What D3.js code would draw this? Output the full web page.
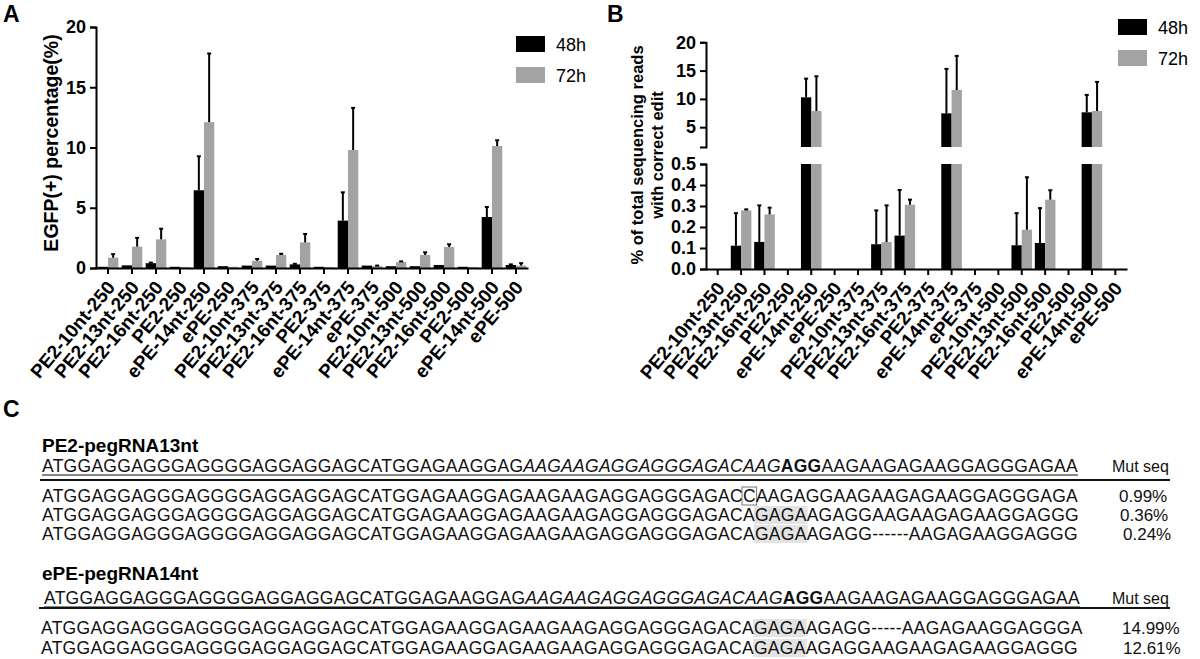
<!DOCTYPE html>
<html>
<head>
<meta charset="utf-8">
<script src="https://cdn.jsdelivr.net/npm/d3@7"></script>
<style>
  body { margin: 0; background: #fff; }
  svg { font-family: "Liberation Sans", Arial, sans-serif; }
  .axis path, .axis line { stroke: #000; stroke-width: 2; }
  .axis text { font-weight: bold; fill: #000; }
</style>
</head>
<body>
<div id="wrapper"></div>
<script>
const categories = [
  "PE2-10nt-250", "PE2-13nt-250", "PE2-16nt-250", "PE2-250", "ePE-14nt-250", "ePE-250",
  "PE2-10nt-375", "PE2-13nt-375", "PE2-16nt-375", "PE2-375", "ePE-14nt-375", "ePE-375",
  "PE2-10nt-500", "PE2-13nt-500", "PE2-16nt-500", "PE2-500", "ePE-14nt-500", "ePE-500"
];
const seriesNames = ["48h", "72h"];

// panel A: EGFP(+) percentage, mean and upper error
const egfp48 = [0.1, 0.22, 0.4, 0.1, 6.45, 0.15, 0.2, 0.2, 0.3, 0.1, 3.93, 0.2, 0.15, 0.15, 0.25, 0.1, 4.23, 0.25];
const egfp48Err = [0, 0, 0.05, 0, 2.82, 0, 0, 0, 0.05, 0, 2.35, 0, 0, 0, 0, 0, 0.83, 0.05];
const egfp72 = [0.85, 1.77, 2.38, 0.08, 12.1, 0.1, 0.6, 1.08, 2.13, 0.08, 9.79, 0.15, 0.5, 1.08, 1.74, 0.08, 10.12, 0.2];
const egfp72Err = [0.3, 0.73, 0.88, 0, 5.7, 0, 0.15, 0.1, 0.69, 0, 3.5, 0.05, 0.05, 0.22, 0.23, 0, 0.48, 0.2];

// panel B: % of sequencing reads with correct edit
const seq48 = [0, 0.111, 0.129, 0, 10.28, 0, 0, 0.118, 0.159, 0, 7.45, 0, 0, 0.113, 0.124, 0, 7.63, 0];
const seq48Err = [0, 0.155, 0.174, 0, 3.3, 0, 0, 0.161, 0.217, 0, 7.85, 0, 0, 0.153, 0.166, 0, 3.07, 0];
const seq72 = [0, 0.279, 0.26, 0, 7.86, 0, 0, 0.128, 0.306, 0, 11.57, 0, 0, 0.187, 0.33, 0, 7.86, 0];
const seq72Err = [0, 0.005, 0.032, 0, 6.14, 0, 0, 0.175, 0.024, 0, 6.03, 0, 0, 0.25, 0.045, 0, 5.14, 0];

const ticksA = [0, 5, 10, 15, 20];
const ticksBHigh = [5, 10, 15, 20];
const ticksBLow = [0, 0.1, 0.2, 0.3, 0.4, 0.5];

// panel C: sequences
const refSeq = [["ATGGAGGAGGGAGGGGAGGAGGAGCATGGAGAAGGAG", "n"], ["AAGAAGAGGAGGGAGACAAG", "i"], ["AGG", "b"], ["AAGAAGAGAAGGAGGGAGAA", "n"]];
const pe2Rows = [
  [["ATGGAGGAGGGAGGGGAGGAGGAGCATGGAGAAGGAGAAGAAGAGGAGGGAGAC", "n"], ["C", "box"], ["AAGAGGAAGAAGAGAAGGAGGGAGA", "n"]],
  [["ATGGAGGAGGGAGGGGAGGAGGAGCATGGAGAAGGAGAAGAAGAGGAGGGAGACA", "n"], ["GAGA", "hl"], ["AGAGGAAGAAGAGAAGGAGGG", "n"]],
  [["ATGGAGGAGGGAGGGGAGGAGGAGCATGGAGAAGGAGAAGAAGAGGAGGGAGACA", "n"], ["GAGA", "hl"], ["AGAGG------AAGAGAAGGAGGG", "n"]]
];
const pe2Pct = ["0.99%", "0.36%", "0.24%"];
const epeRows = [
  [["ATGGAGGAGGGAGGGGAGGAGGAGCATGGAGAAGGAGAAGAAGAGGAGGGAGACA", "n"], ["GAGA", "hl"], ["AGAGG-----AAGAGAAGGAGGGA", "n"]],
  [["ATGGAGGAGGGAGGGGAGGAGGAGCATGGAGAAGGAGAAGAAGAGGAGGGAGACA", "n"], ["GAGA", "hl"], ["AGAGGAAGAAGAGAAGGAGGG", "n"]]
];
const epePct = ["14.99%", "12.61%"];

const colors = { "48h": "#000", "72h": "#a3a3a3" };

const svg = d3.select(`#wrapper`).append(`svg`)
  .attr(`width`, 1200).attr(`height`, 659);

// panel letters
[["A", 3, 22], ["B", 607, 22], ["C", 3, 417]].forEach(([t, x, y]) => {
  svg.append(`text`).attr(`x`, x).attr(`y`, y).attr(`font-size`, 23).attr(`font-weight`, `bold`).text(t);
});

const styleXAxis = g => {
  g.selectAll(`.tick text`)
    .attr(`x`, 0).attr(`y`, 0).attr(`dy`, 0)
    .attr(`text-anchor`, `end`)
    .attr(`font-size`, 19)
    .attr(`transform`, `translate(8,20) rotate(-50)`);
};

const drawErr = (g, x, y0, y1) => {
  g.append(`line`).attr(`x1`, x).attr(`x2`, x).attr(`y1`, y0).attr(`y2`, y1)
    .attr(`stroke`, `#000`).attr(`stroke-width`, 2);
  g.append(`line`).attr(`x1`, x - 2).attr(`x2`, x + 2).attr(`y1`, y1).attr(`y2`, y1)
    .attr(`stroke`, `#000`).attr(`stroke-width`, 2);
};

const drawLegend = (x, y) => {
  seriesNames.forEach((s, i) => {
    svg.append(`rect`).attr(`x`, x).attr(`y`, y + i * 31).attr(`width`, 29).attr(`height`, 16).attr(`fill`, colors[s]);
    svg.append(`text`).attr(`x`, x + 40).attr(`y`, y + i * 31 + 15).attr(`font-size`, 18).text(s);
  });
};

// ---------- panel A ----------
const xA = d3.scaleBand().domain(categories).range([96, 528]);
const yA = d3.scaleLinear().domain([0, 20]).range([268, 27]);
const barW = 10.3;

const gA = svg.append(`g`);
categories.forEach((c, i) => {
  const cx = xA(c) + xA.bandwidth() / 2;
  [[egfp48[i], egfp48Err[i], "48h"], [egfp72[i], egfp72Err[i], "72h"]].forEach(([v, e, s], k) => {
    const bx = k === 0 ? cx - barW : cx;
    gA.append(`rect`).attr(`x`, bx).attr(`width`, barW)
      .attr(`y`, yA(v)).attr(`height`, yA(0) - yA(v)).attr(`fill`, colors[s]);
    if (e > 0) drawErr(gA, bx + barW / 2, yA(v), yA(v + e));
  });
});

gA.append(`g`).attr(`class`, `axis`).attr(`transform`, `translate(96,0)`)
  .call(d3.axisLeft(yA).tickValues(ticksA).tickSize(6).tickPadding(4))
  .call(g => g.selectAll(`text`).attr(`font-size`, 18));
gA.append(`g`).attr(`class`, `axis`).attr(`transform`, `translate(0,268)`)
  .call(d3.axisBottom(xA).tickSize(6).tickSizeOuter(0))
  .call(styleXAxis);

gA.append(`text`).attr(`transform`, `translate(58,143) rotate(-90)`)
  .attr(`text-anchor`, `middle`).attr(`font-weight`, `bold`).attr(`font-size`, 19.5)
  .text(`EGFP(+) percentage(%)`);

drawLegend(516, 36);

// ---------- panel B ----------
const xB = d3.scaleBand().domain(categories).range([706, 1127]);
const yLow = d3.scaleLinear().domain([0, 0.5]).range([269, 164]);
const yHigh = d3.scaleLinear().domain([1.5, 20]).range([147, 42.3]);

const gB = svg.append(`g`);
categories.forEach((c, i) => {
  const cx = xB(c) + xB.bandwidth() / 2;
  [[seq48[i], seq48Err[i], "48h"], [seq72[i], seq72Err[i], "72h"]].forEach(([v, e, s], k) => {
    const bx = k === 0 ? cx - barW : cx;
    if (v <= 0) return;
    if (v <= 0.5) {
      gB.append(`rect`).attr(`x`, bx).attr(`width`, barW)
        .attr(`y`, yLow(v)).attr(`height`, yLow(0) - yLow(v)).attr(`fill`, colors[s]);
      if (e > 0) drawErr(gB, bx + barW / 2, yLow(v), yLow(v + e));
    } else {
      gB.append(`rect`).attr(`x`, bx).attr(`width`, barW)
        .attr(`y`, yLow(0.5)).attr(`height`, yLow(0) - yLow(0.5)).attr(`fill`, colors[s]);
      gB.append(`rect`).attr(`x`, bx).attr(`width`, barW)
        .attr(`y`, yHigh(v)).attr(`height`, yHigh(1.5) - yHigh(v)).attr(`fill`, colors[s]);
      if (e > 0) drawErr(gB, bx + barW / 2, yHigh(v), yHigh(v + e));
    }
  });
});

gB.append(`g`).attr(`class`, `axis`).attr(`transform`, `translate(706,0)`)
  .call(d3.axisLeft(yHigh).tickValues(ticksBHigh).tickSize(6).tickPadding(4))
  .call(g => g.selectAll(`text`).attr(`font-size`, 18));
gB.append(`g`).attr(`class`, `axis`).attr(`transform`, `translate(706,0)`)
  .call(d3.axisLeft(yLow).tickValues(ticksBLow).tickFormat(d3.format(`.1f`)).tickSize(6).tickPadding(4))
  .call(g => g.selectAll(`text`).attr(`font-size`, 18));
gB.append(`g`).attr(`class`, `axis`).attr(`transform`, `translate(0,269)`)
  .call(d3.axisBottom(xB).tickSize(6).tickSizeOuter(0))
  .call(styleXAxis);

const yLab = gB.append(`text`).attr(`transform`, `translate(643,155) rotate(-90)`)
  .attr(`text-anchor`, `middle`).attr(`font-weight`, `bold`).attr(`font-size`, 16.5);
yLab.append(`tspan`).attr(`x`, 0).attr(`dy`, 0).text(`% of total sequencing reads`);
yLab.append(`tspan`).attr(`x`, 0).attr(`dy`, 20).text(`with correct edit`);

drawLegend(1118, 19);

// ---------- panel C ----------
const seqSize = 17.5;
const seqWidth = 1036;

const seqLine = (segs, x, y, ls) => {
  const t = svg.append(`text`).attr(`x`, x).attr(`y`, y).attr(`font-size`, seqSize)
    .attr(`letter-spacing`, ls).attr(`fill`, `#111`);
  segs.forEach(([s, k]) => {
    t.append(`tspan`).text(s)
      .attr(`font-style`, k === "i" ? `italic` : null)
      .attr(`font-weight`, k === "b" ? `bold` : null);
  });
  return t;
};

// fit spacing so the reference line spans the same width as in the figure
const probe = seqLine(refSeq, 0, -50, 0);
const natural = probe.node().getComputedTextLength();
probe.remove();
const nChars = refSeq.map(d => d[0]).join(``).length;
const ls = (seqWidth - natural) / nChars;

const markSegments = (t, segs, y) => {
  let idx = 0;
  segs.forEach(([s, k]) => {
    if (k === "hl" || k === "box") {
      const node = t.node();
      const x0 = node.getStartPositionOfChar(idx).x;
      const x1 = node.getEndPositionOfChar(idx + s.length - 1).x - (k === "hl" ? 0 : ls);
      const r = svg.insert(`rect`, () => node)
        .attr(`x`, x0 - 1).attr(`width`, x1 - x0 + 2)
        .attr(`y`, y - 15).attr(`height`, 18);
      if (k === "hl") r.attr(`fill`, `#e3e3e3`);
      else r.attr(`fill`, `none`).attr(`stroke`, `#777`).attr(`stroke-width`, 1);
    }
    idx += s.length;
  });
};

const block = (title, titleY, refX, refY, lineY, rows, pcts, rowX, rowY0, rowStep, pctX) => {
  svg.append(`text`).attr(`x`, 42).attr(`y`, titleY).attr(`font-size`, 19).attr(`font-weight`, `bold`).text(title);
  const ref = seqLine(refSeq, refX, refY, ls);
  const w = ref.node().getComputedTextLength();
  svg.append(`line`).attr(`x1`, refX).attr(`x2`, refX + w).attr(`y1`, refY + 3).attr(`y2`, refY + 3)
    .attr(`stroke`, `#111`).attr(`stroke-width`, 1);
  svg.append(`line`).attr(`x1`, rowX - 2).attr(`x2`, 1170).attr(`y1`, lineY).attr(`y2`, lineY)
    .attr(`stroke`, `#111`).attr(`stroke-width`, 2);
  svg.append(`text`).attr(`x`, 1112).attr(`y`, refY).attr(`font-size`, 16).attr(`fill`, `#111`).text(`Mut seq`);
  rows.forEach((segs, i) => {
    const y = rowY0 + i * rowStep;
    const t = seqLine(segs, rowX, y, ls);
    markSegments(t, segs, y);
    svg.append(`text`).attr(`x`, pctX[i]).attr(`y`, y).attr(`font-size`, 17).attr(`fill`, `#111`).text(pcts[i]);
  });
};

block(`PE2-pegRNA13nt`, 452, 42, 472, 480, pe2Rows, pe2Pct, 42, 502, 19, [1119, 1120, 1123]);
block(`ePE-pegRNA14nt`, 580, 44, 604, 608, epeRows, epePct, 41, 634, 20, [1122, 1123]);
</script>
</body>
</html>
